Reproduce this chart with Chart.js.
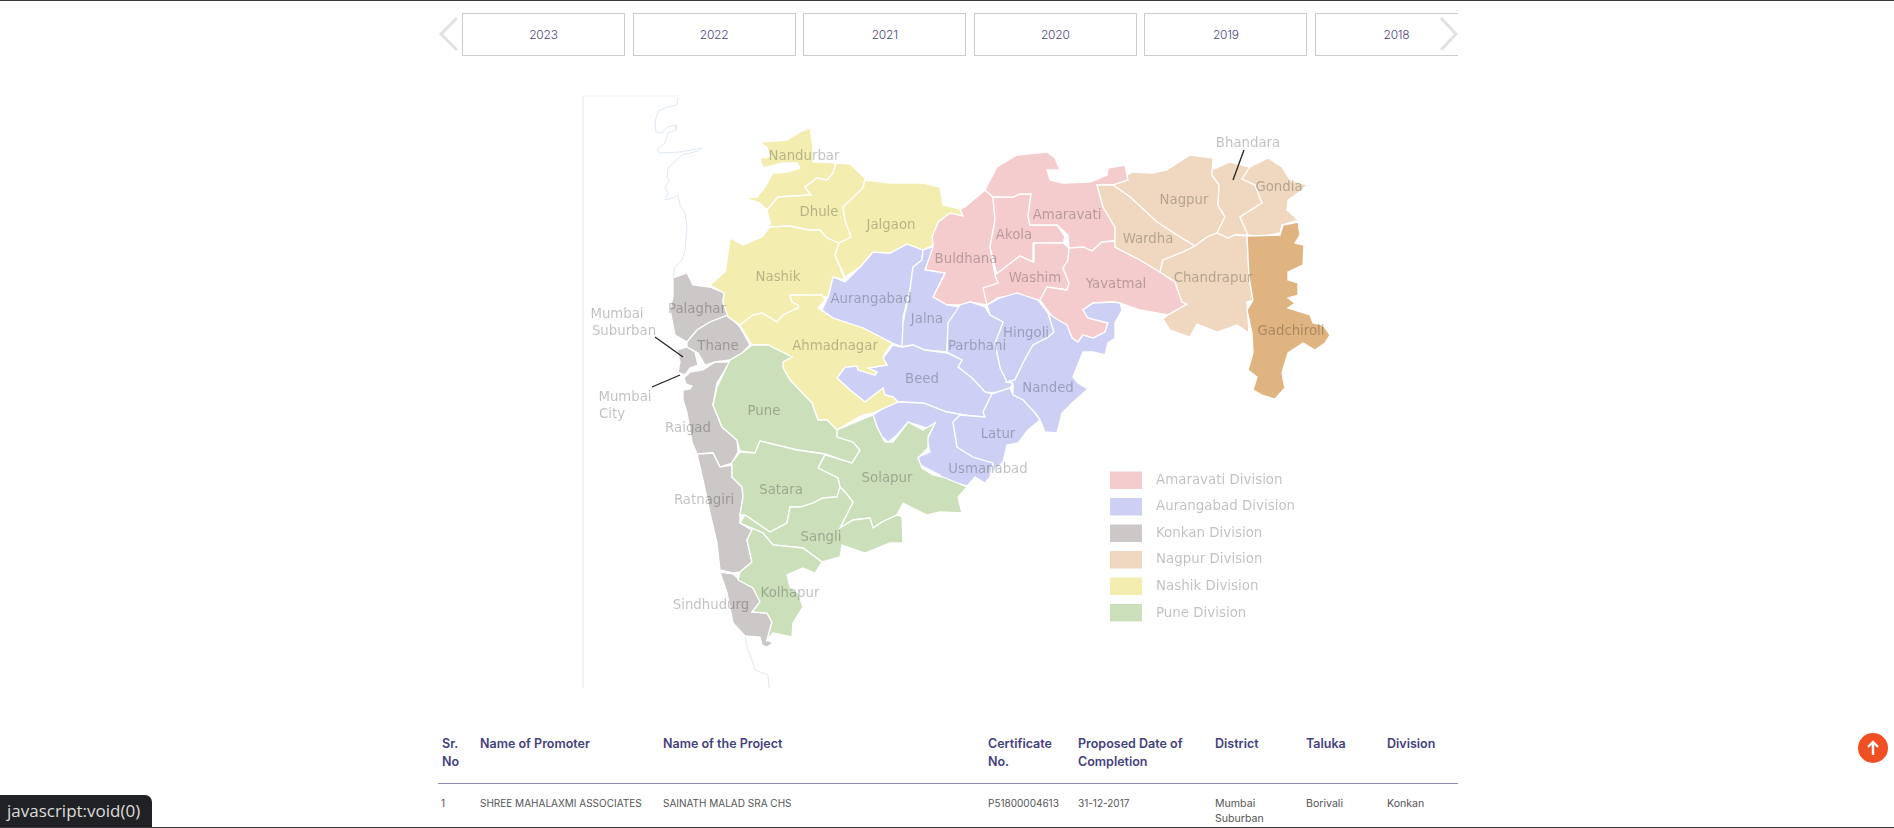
<!DOCTYPE html>
<html>
<head>
<meta charset="utf-8">
<title>Maharashtra divisions</title>
<script src="https://cdn.jsdelivr.net/npm/chart.js@4/dist/chart.umd.min.js"></script>
<style>
html,body{margin:0;padding:0;width:1894px;height:828px;overflow:hidden;background:#fff;font-family:Inter,"Noto Sans",sans-serif}
.abs{position:absolute}
#topline{left:0;top:0;width:1894px;height:1px;background:#3a3a3a}
#botline{left:0;top:827px;width:1894px;height:1px;background:#3a3a3a}
#tabs{left:462px;top:13px;width:996px;height:43px;overflow:hidden}
.tab{position:absolute;top:0;width:161px;height:41px;border:1px solid #ccc;color:#4a4585;font-size:12px;font-weight:300;letter-spacing:-.2px;line-height:41px;text-align:center}
#map{left:570px;top:90px;width:800px;height:620px}
.th{color:#443f80;font-weight:600;font-size:12.5px;line-height:18px}
.td{color:#555;font-size:10.6px;line-height:15px}
.caps{font-size:10px}
#rule{left:438px;top:783px;width:1020px;height:1px;background:#8c89b8}
#status{left:0;top:795px;width:152px;height:33px;background:#202124;color:#dcdcdc;border-top-right-radius:7px;font-family:"Open Sans",sans-serif;font-size:17px;line-height:32px;text-indent:7px}
#up{left:1858px;top:733px;width:30px;height:30px;border-radius:50%;background:#f04e23}
</style>
</head>
<body>
<div class="abs" id="topline"></div>
<div class="abs" id="tabs"></div>
<svg class="abs" style="left:438px;top:16px" width="22" height="36"><polyline points="19,2 3,18 19,34" fill="none" stroke="#e2e2e2" stroke-width="3"/></svg>
<svg class="abs" style="left:1438px;top:16px" width="22" height="36"><polyline points="3,2 18,18 3,34" fill="none" stroke="#e2e2e2" stroke-width="3"/></svg>
<div class="abs" id="map"><canvas id="chart-1" width="800" height="620"></canvas></div>
<div class="abs" id="table"></div>
<div class="abs" id="rule"></div>
<div class="abs" id="status">javascript:void(0)</div>
<div class="abs" id="up"><svg width="30" height="30"><path d="M15 22V9M10 14l5-5 5 5" fill="none" stroke="#fff" stroke-width="2.4"/></svg></div>
<div class="abs" id="botline"></div>
<script>
const years = ['2023','2022','2021','2020','2019','2018'];

const nandurbar = [760,142,787,140,800,132,810,128,813,147,813,162,836,163,833,173,827,180,817,178,805,187,811,195,778,197,767,210,760,203,745,198,757,197,765,187,773,173,787,172,800,168,797,163,783,163,763,168,760,158,770,157,767,148];
const dhule = [836,163,850,164,865,178,863,188,843,207,845,220,851,237,839,243,827,238,820,230,808,230,790,226,770,227,770,222,767,210,778,197,811,195,805,187,817,178,827,180,833,173];
const jalgaon = [865,180,890,183,923,183,940,187,943,205,960,209,963,216,950,213,938,222,932,237,933,245,923,250,907,244,890,253,873,252,860,267,845,277,835,255,839,243,851,237,845,220,843,207,863,188];
const nashik = [770,227,790,226,808,230,820,230,827,238,839,243,835,255,845,280,833,277,828,297,790,295,792,302,798,305,798,308,783,315,777,322,762,313,753,315,740,325,728,317,723,302,724,293,710,285,725,272,727,260,730,238,743,245,762,237];
const ahmadnagar = [790,295,822,295,825,300,818,308,833,318,863,328,892,343,885,353,883,358,887,365,868,368,877,372,875,375,858,370,857,366,845,367,837,378,850,390,865,402,883,388,885,395,893,397,898,402,873,413,862,415,840,428,837,430,827,420,818,420,812,403,790,380,783,368,783,362,792,357,768,345,752,345,740,325,753,315,762,313,777,322,783,315,798,308,798,305,792,302];

const buldhana = [985,190,993,197,995,220,990,247,995,275,998,283,985,288,987,305,970,302,960,305,947,305,933,297,945,273,925,270,933,245,932,237,938,222,950,213,965,207];
const akola = [993,197,1013,197,1020,194,1031,194,1028,217,1030,225,1057,225,1065,237,1063,243,1034,243,1033,262,1020,256,1012,262,997,275,990,247,995,220];
const amaravati = [985,190,997,167,1017,155,1047,152,1055,158,1060,170,1047,170,1050,180,1063,183,1090,182,1107,175,1108,168,1125,165,1128,180,1113,185,1097,185,1103,207,1115,227,1115,241,1102,242,1092,251,1083,247,1075,252,1069,248,1068,235,1057,225,1030,225,1028,217,1031,194,1020,194,1013,197,993,197];
const washim = [1034,243,1063,243,1069,248,1068,260,1063,268,1069,283,1067,290,1047,287,1040,300,1032,300,1017,294,997,298,987,305,983,288,998,283,995,275,1012,262,1020,256,1033,262];
const yavatmal = [1069,248,1083,247,1092,251,1102,242,1115,241,1115,247,1140,260,1160,272,1175,282,1182,302,1187,304,1168,315,1140,310,1120,303,1113,302,1093,303,1083,310,1088,318,1108,323,1105,332,1093,338,1083,335,1078,342,1072,338,1067,328,1053,318,1040,300,1047,287,1067,290,1069,283,1063,268,1068,260];

const aurangabad = [845,282,860,267,873,252,890,253,907,244,923,250,922,260,913,267,910,290,903,317,903,347,892,343,863,328,833,318,822,310,828,297,833,277];
const jalna = [923,250,933,247,925,270,945,273,933,297,947,305,960,307,948,323,947,352,925,350,913,345,902,347,903,323,910,290,913,267,922,260];
const hingoli = [987,305,1000,298,1017,293,1038,300,1048,313,1054,332,1047,338,1033,345,1023,363,1015,380,1007,382,1000,368,995,343,1003,322,990,315];
const parbhani = [960,305,970,302,985,307,990,315,1003,322,995,343,1000,368,1007,382,1013,383,1010,388,993,393,985,392,972,378,958,367,962,360,947,352,948,323];
const nanded = [1048,313,1055,318,1067,325,1072,338,1078,342,1083,335,1093,338,1105,332,1108,323,1088,318,1083,310,1093,303,1113,302,1120,303,1122,310,1115,323,1115,338,1108,343,1105,355,1093,352,1083,352,1073,377,1078,383,1088,389,1072,403,1062,413,1057,433,1045,432,1040,420,1035,413,1023,400,1013,395,1013,383,1007,382,1015,380,1023,363,1033,345,1047,338,1054,332];
const beed = [893,345,902,347,913,345,925,350,947,353,962,360,958,367,972,378,985,392,992,394,983,412,985,417,970,416,947,412,923,403,898,402,893,397,885,395,883,388,865,402,850,390,837,378,845,367,857,366,858,370,875,375,877,372,868,368,887,365,883,358];
const usmanabad = [873,415,893,402,898,402,923,403,947,412,970,416,960,415,953,422,957,447,973,457,993,463,990,477,985,483,975,477,967,486,943,480,940,475,920,465,918,457,930,452,927,440,935,423,927,428,908,422,897,435,888,442,880,435];
const latur = [953,422,960,415,985,417,983,412,992,394,1010,388,1013,395,1023,400,1035,413,1040,420,1028,430,1018,443,1007,445,1003,462,993,472,993,463,973,457,957,447];

const palghar = [673,278,687,273,693,285,710,287,724,293,723,302,728,315,710,322,697,330,687,342,675,335,670,310,673,297];
const thane = [728,315,740,327,750,345,742,353,730,360,715,362,705,365,698,353,687,347,687,342,697,330,710,322];
const mumbai = [677,350,687,347,695,352,698,365,690,368,685,375,678,372,680,362];
const raigad = [684,378,690,372,703,370,715,362,730,362,717,383,713,405,722,427,737,440,738,452,732,463,720,467,713,453,697,454,692,442,687,413,683,400,683,390,690,389,692,386,686,384];
const ratnagiri = [697,454,713,453,720,467,732,465,732,477,742,487,743,497,740,515,740,523,752,530,747,540,752,562,740,572,733,573,720,570,717,543,710,513,703,480];
const sindhudurg = [720,572,733,574,740,580,753,588,760,602,752,612,767,613,772,622,767,640,773,643,767,647,762,645,760,637,745,636,733,623,727,593];

const nagpur = [1113,185,1128,180,1127,175,1133,172,1153,173,1167,170,1190,155,1213,158,1212,175,1219,185,1218,205,1225,217,1217,233,1207,237,1195,246,1180,237,1157,222,1130,197];
const wardha = [1097,185,1113,185,1130,197,1157,222,1180,237,1195,246,1183,252,1163,260,1160,272,1140,260,1115,247,1115,227,1103,207];
const bhandara = [1212,170,1230,162,1250,167,1242,179,1255,185,1262,203,1240,217,1248,235,1235,235,1228,238,1217,233,1225,217,1218,205,1219,185,1212,175];
const gondia = [1242,179,1250,167,1268,158,1282,167,1290,180,1307,185,1302,190,1288,200,1287,210,1298,220,1282,225,1280,233,1260,237,1248,235,1240,217,1262,203,1255,185];
const chandrapur = [1195,246,1207,237,1217,233,1228,238,1235,235,1247,236,1249,277,1253,300,1247,302,1249,333,1237,325,1217,332,1197,324,1190,337,1170,330,1163,319,1168,315,1187,304,1182,302,1175,282,1160,272,1163,260,1183,252];
const gadchiroli = [1247,236,1280,235,1283,225,1298,222,1300,235,1295,243,1304,245,1303,265,1288,272,1288,280,1298,283,1298,295,1288,298,1295,303,1288,308,1310,315,1313,323,1323,325,1330,335,1325,343,1315,350,1303,343,1288,353,1282,373,1285,388,1275,399,1262,395,1253,390,1257,377,1248,370,1253,353,1252,333,1247,310,1253,300,1249,277];

const pune = [752,345,768,345,792,357,783,362,783,368,790,380,812,403,818,420,827,420,837,430,837,437,853,442,860,450,852,463,825,454,797,450,760,441,755,453,740,451,737,440,722,427,713,405,717,387,730,360,742,353];
const solapur = [837,430,873,415,877,427,885,442,893,442,908,422,923,430,935,423,928,437,928,448,918,458,922,468,933,475,943,477,967,487,958,497,962,513,940,512,927,515,903,503,897,515,882,522,873,528,870,518,853,520,840,528,853,502,845,492,840,487,838,478,818,468,825,455,852,463,860,450,853,442,837,437];
const satara = [760,441,797,450,825,454,818,468,838,478,840,487,837,497,823,498,813,503,800,507,790,507,787,523,770,532,745,515,740,515,743,497,742,487,732,477,732,462,740,452,755,453];
const sangli = [745,515,770,532,787,523,790,507,800,507,813,503,823,498,837,497,840,487,845,492,853,502,840,528,853,520,870,518,873,528,882,522,897,515,902,517,903,543,890,543,865,553,842,545,840,557,822,562,803,548,773,545,763,533,740,523];
const kolhapur = [740,523,763,533,773,545,803,548,822,562,815,573,803,568,787,575,790,587,798,593,803,607,793,623,792,637,773,633,767,640,772,622,767,613,752,612,760,602,753,588,738,580,740,572,752,562,747,540,752,530];

// sea and state edge lines behind the map
const coastNorth = [678,97,677,105,667,107,658,111,655,122,656,132,662,133,667,127,676,125,676,130,668,133,665,143,657,149,660,153,680,152,702,148,698,151,682,155,668,168,667,178,670,180,665,187,668,193,665,200,673,198,678,195,680,205,685,213,687,227,685,250,682,260,675,267,673,277];
const coastSouth = [745,637,748,650,753,663,755,670,763,673,768,675,769,688];
const frame = [678,96,583,96,583,688];
// leader lines from a name to its district
const leaderSuburban = [655,337,683,357];
const leaderCity = [652,387,680,375];
const leaderBhandara = [1244,150,1233,180];

const amaravatiDivision = [buldhana,akola,amaravati,washim,yavatmal];
const aurangabadDivision = [aurangabad,jalna,hingoli,parbhani,nanded,beed,usmanabad,latur];
const konkanDivision = [palghar,thane,mumbai,raigad,ratnagiri,sindhudurg];
const nagpurDivision = [nagpur,wardha,bhandara,gondia,chandrapur];
const nashikDivision = [nandurbar,dhule,jalgaon,nashik,ahmadnagar];
const puneDivision = [pune,solapur,satara,sangli,kolhapur];

const legendNames = ['Amaravati Division','Aurangabad Division','Konkan Division','Nagpur Division','Nashik Division','Pune Division'];
const legendColors = ['#f4cccd','#cdd0f4','#ccc8c7','#efd8bf','#f3edb0','#cbdfbb'];
const legendY = [480.5,507,533.5,560,586.5,613];
const legendTextY = [481,507,534,560,587,614];
const gadchiroliColor = '#e0b481';

const labelNames = ['Nandurbar','Dhule','Jalgaon','Nashik','Palaghar','Thane','Ahmadnagar','Aurangabad','Jalna','Beed','Mumbai','Suburban','Mumbai','City','Raigad','Pune','Ratnagiri','Satara','Sangli','Solapur','Kolhapur','Sindhudurg','Usmanabad','Latur','Nanded','Parbhani','Hingoli','Buldhana','Akola','Amaravati','Washim','Yavatmal','Wardha','Nagpur','Bhandara','Gondia','Chandrapur','Gadchiroli'];
const labelX = [804,819,891,778,697,718,835,871,927,922,617,624,625,612,688,764,704,781,821,887,790,711,988,998,1048,977,1026,966,1014,1067,1035,1116,1148,1184,1248,1279,1213,1291];
const labelY = [157,213,226,278,310,347,347,300,320,380,315,332,398,415,429,412,501,491,538,479,594,606,470,435,389,347,334,260,236,216,279,285,240,201,144,188,279,332];

const tableHead = [['Sr.','No'],['Name of Promoter'],['Name of the Project'],['Certificate','No.'],['Proposed Date of','Completion'],['District'],['Taluka'],['Division']];
const tableRow = [['1'],['SHREE MAHALAXMI ASSOCIATES'],['SAINATH MALAD SRA CHS'],['P51800004613'],['31-12-2017'],['Mumbai','Suburban'],['Borivali'],['Konkan']];
const columnX = [442,480,663,988,1078,1215,1306,1387];

function toPoints(flat){
  const pts = [];
  for(let i=0;i<flat.length;i+=2) pts.push({x:flat[i],y:flat[i+1]});
  return pts;
}

function shape(flat,color){
  const pts = toPoints(flat);
  pts.push(pts[0]);
  return {data:pts,fill:'shape',backgroundColor:color,borderColor:'#fff',borderWidth:1.3,pointRadius:0,showLine:true,tension:0};
}

function stroke(flat,color,width){
  return {data:toPoints(flat),fill:false,borderColor:color,borderWidth:width,pointRadius:0,showLine:true,tension:0};
}

const datasets = [];
datasets.push(stroke(coastNorth,'#dde8f3',1));
datasets.push(stroke(coastSouth,'#dde8f3',1));
datasets.push(stroke(frame,'#f1f1f1',1));
[amaravatiDivision,aurangabadDivision,konkanDivision,nagpurDivision,nashikDivision,puneDivision].forEach((division,i)=>{
  division.forEach(d=>datasets.push(shape(d,legendColors[i])));
});
datasets.push(shape(gadchiroli,gadchiroliColor));
datasets.push(stroke(leaderSuburban,'#222',1.3));
datasets.push(stroke(leaderCity,'#222',1.3));
datasets.push(stroke(leaderBhandara,'#222',1.3));
// chart.js paints the first dataset last, so the leaders go first
datasets.reverse();

const mapText = {
  id:'mapText',
  afterDatasetsDraw(chart){
    const {ctx,scales:{x,y}} = chart;
    ctx.save();
    ctx.font = '13.3px "DejaVu Sans"';
    ctx.fillStyle = 'rgba(0,0,0,0.25)';
    ctx.textAlign = 'center';
    ctx.textBaseline = 'middle';
    labelNames.forEach((name,i)=>ctx.fillText(name,x.getPixelForValue(labelX[i]),y.getPixelForValue(labelY[i])));
    ctx.textAlign = 'left';
    ctx.font = '13.4px "DejaVu Sans"';
    legendNames.forEach((name,i)=>{
      ctx.fillStyle = legendColors[i];
      ctx.fillRect(x.getPixelForValue(1110),y.getPixelForValue(legendY[i]-9),32,17.5);
      ctx.fillStyle = 'rgba(0,0,0,0.25)';
      ctx.fillText(name,x.getPixelForValue(1156),y.getPixelForValue(legendTextY[i]));
    });
    ctx.restore();
  }
};

new Chart(document.getElementById('chart-1'),{
  type:'scatter',
  data:{datasets:datasets},
  options:{
    responsive:false,
    animation:false,
    layout:{padding:0},
    plugins:{legend:{display:false},tooltip:{enabled:false}},
    scales:{
      x:{type:'linear',display:false,min:570,max:1370},
      y:{type:'linear',display:false,min:90,max:710,reverse:true}
    }
  },
  plugins:[mapText]
});

// year tabs and the first table row around the chart
const tabs = document.getElementById('tabs');
years.forEach((year,i)=>{
  const t = document.createElement('div');
  t.className = 'tab';
  t.style.left = (i*170.6)+'px';
  t.textContent = year;
  tabs.appendChild(t);
});

function addCell(lines,cls,x,top){
  const c = document.createElement('div');
  c.className = 'abs '+cls;
  c.style.left = x+'px';
  c.style.top = top+'px';
  c.innerHTML = lines.join('<br>');
  document.body.appendChild(c);
}
tableHead.forEach((lines,i)=>addCell(lines,'th',columnX[i],735));
tableRow.forEach((lines,i)=>addCell(lines,i<5?'td caps':'td',i==0?441:columnX[i],796));
</script>
</body>
</html>
